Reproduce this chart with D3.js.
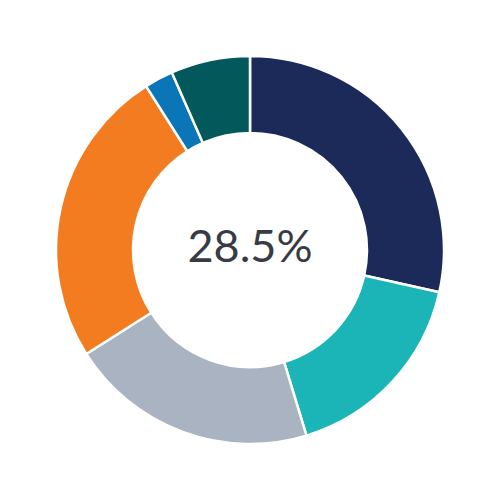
<!DOCTYPE html>
<html><head><meta charset="utf-8">
<script src="https://cdn.jsdelivr.net/npm/d3@7"></script>
<style>html,body{margin:0;padding:0;background:#fff;}</style>
</head><body>
<svg id="chart" width="500" height="500"></svg>
<script>
const categories = ["A", "B", "C", "D", "E", "F"];
const values = [28.5, 16.8, 20.7, 25.0, 2.4, 6.6];
const colors = ["#1c2a5a", "#1bb5b8", "#a9b3c1", "#f37c20", "#0a76b7", "#02585a"];
const centerLabel = "28.5%";

const svg = d3.select("#chart");
const g = svg.append("g").attr("transform", "translate(250,250)");
const data = categories.map((c, i) => ({cat: c, value: values[i], color: colors[i]}));
const pie = d3.pie().value(d => d.value).sort(null);
const arc = d3.arc().innerRadius(117).outerRadius(194);
g.selectAll("path").data(pie(data)).join("path")
  .attr("d", arc)
  .attr("fill", d => d.data.color)
  .attr("stroke", "#fff")
  .attr("stroke-width", 2.5);
g.append("text").text(centerLabel)
  .attr("text-anchor", "middle")
  .attr("y", 12)
  .attr("font-family", "Lato, sans-serif")
  .attr("font-size", 45)
  .attr("fill", "#363b46");
</script>
</body></html>
